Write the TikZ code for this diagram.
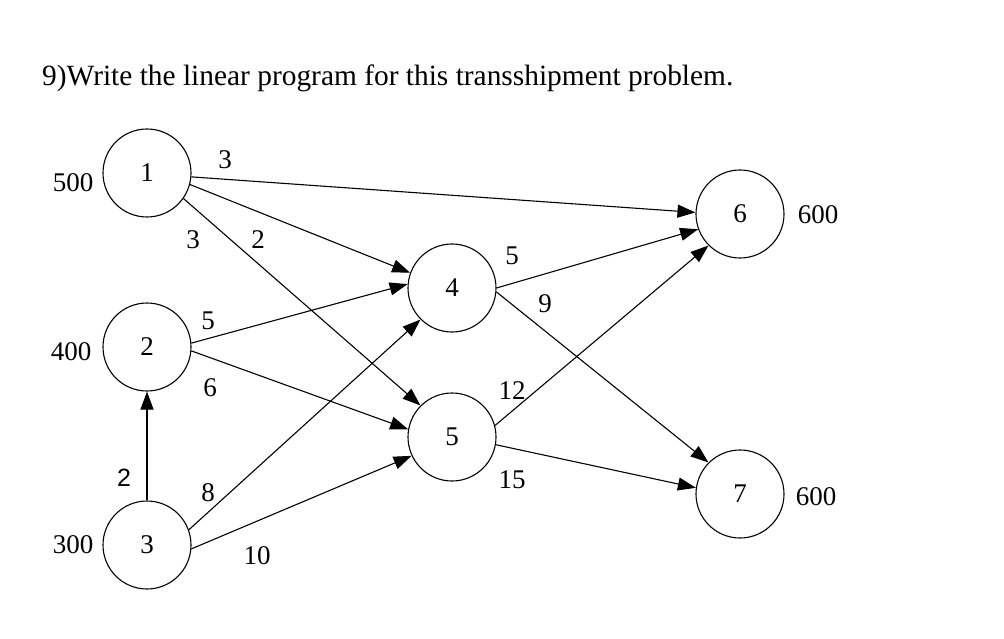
\documentclass[tikz,border=0pt]{standalone}
\usepackage{fontspec}
\setmainfont{Liberation Serif}
\newfontfamily\arial{Liberation Sans}
\usetikzlibrary{arrows.meta}
\begin{document}
\begin{tikzpicture}[x=1pt,y=-1pt,
  nd/.style={circle,draw,line width=1.1pt,minimum size=88pt,inner sep=0pt,font=\fontsize{27}{27}\selectfont},
  lb/.style={font=\fontsize{27}{27}\selectfont,inner sep=0pt},
  ar/.style={line width=1.1pt,-{Triangle[length=18pt,width=13pt]}}]
\useasboundingbox (0,0) rectangle (1004,639);
\node[anchor=west,font=\fontsize{29.4}{30}\selectfont,inner sep=0pt] (t) at (42,78) {9)Write the linear program for this transshipment problem.};
\node[nd] (n1) at (147,173) {1};
\node[nd] (n2) at (147,347) {2};
\node[nd] (n3) at (147,545) {3};
\node[nd] (n4) at (452,288) {4};
\node[nd] (n5) at (452,437) {5};
\node[nd] (n6) at (740,214) {6};
\node[nd] (n7) at (740,494) {7};
\node[lb] (s1) at (73,183) {500};
\node[lb] (s2) at (71,352) {400};
\node[lb] (s3) at (73,545) {300};
\node[lb] (d6) at (818,215) {600};
\node[lb] (d7) at (816,497) {600};
\draw[ar] (n1.-5) -- (n6.178);
\draw[ar] (n1.-15) -- (n4.160);
\draw[ar] (n1.-35) -- (n5.135);
\draw[ar] (n2.5) -- (n4.175);
\draw[ar] (n2.-5) -- (n5.170);
\draw[ar] (n3) -- (n2);
\draw[ar] (n3.20) -- (n4.-135);
\draw[ar] (n3.-5) -- (n5.-155);
\draw[ar] (n4.0) -- (n6.-160);
\draw[ar] (n4.-5) -- (n7.135);
\draw[ar] (n5.15) -- (n6.-135);
\draw[ar] (n5.-10) -- (n7.172);
\node[lb] (l16) at (225,160) {3};
\node[lb] (l15) at (193,240) {3};
\node[lb] (l14) at (258,240) {2};
\node[lb] (l24) at (208,321) {5};
\node[lb] (l25) at (210,388) {6};
\node[lb,font=\arial\fontsize{25}{25}\selectfont] (l32) at (124,478) {2};
\node[lb] (l34) at (208,493) {8};
\node[lb] (l35) at (257,556) {10};
\node[lb] (l46) at (512,256) {5};
\node[lb] (l47) at (545,304) {9};
\node[lb] (l56) at (512,391) {12};
\node[lb] (l57) at (512,480) {15};
\end{tikzpicture}
\end{document}
